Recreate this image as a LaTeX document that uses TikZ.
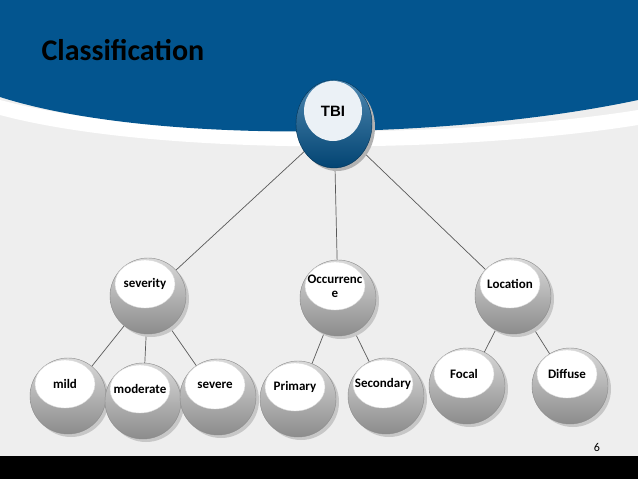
\documentclass[tikz,border=0pt]{standalone}
\usepackage{fontspec}
\setmainfont{Carlito}
\newfontfamily\arialf{Liberation Sans}
\definecolor{hdr}{HTML}{03558F}
\definecolor{bgg}{HTML}{EEEEEE}
\begin{document}
\begin{tikzpicture}[x=1pt,y=-1pt,
  lbl/.style={font=\bfseries\fontsize{13}{14}\selectfont,text=black,align=center},
  conn/.style={draw=black!65,line width=0.7pt}]
\useasboundingbox (0,0) rectangle (638,479);
\fill[bgg] (0,0) rectangle (638,479);
\fill[white] (0,100) .. controls (150,140) and (450,140) .. (638,110) -- (638,125) .. controls (450,155) and (150,155) .. (0,115) -- cycle;
\fill[hdr] (0,0) -- (638,0) -- (638,100) .. controls (450,140) and (150,145) .. (0,97) -- cycle;
\fill[black] (0,456) rectangle (638,479);
\node[anchor=west,font=\bfseries\fontsize{30}{32}\selectfont,text=black] (title) at (38,50) {Classification};
\node[font=\fontsize{12}{12}\selectfont] (pg) at (597,447) {6};
\coordinate (tbi) at (334,124);
\coordinate (sev) at (148,296);
\coordinate (occ) at (338,298);
\coordinate (loc) at (513,296);
\coordinate (mild) at (68,396);
\coordinate (mod) at (143,401);
\coordinate (svr) at (218,397);
\coordinate (pri) at (298,399);
\coordinate (sec) at (386,396);
\coordinate (foc) at (467,386);
\coordinate (dif) at (570,386);
\foreach \a/\b in {tbi/sev,tbi/occ,tbi/loc,sev/mild,sev/mod,sev/svr,occ/pri,occ/sec,loc/foc,loc/dif}
  \draw[conn] (\a) -- (\b);
\newcommand\gball[2]{%
  \fill[black!22] ([shift={(3,3)}]#1) circle (38);
  \shade[top color=black!15,bottom color=black!45,draw=black!45] (#1) circle (38);
  \fill[white,draw=black!15] ([shift={(-3,-12)}]#1) ellipse (30 and 24);
  \node[lbl] (#1-t) at ([shift={(-3,-12)}]#1) {#2};}
\gball{sev}{severity}
\gball{occ}{Occurrenc\\e}
\gball{loc}{Location}
\gball{mild}{mild}
\gball{mod}{moderate}
\gball{svr}{severe}
\gball{pri}{Primary}
\gball{sec}{Secondary}
\gball{foc}{Focal}
\gball{dif}{Diffuse}
\fill[black!30] ([shift={(3,3)}]tbi) ellipse (38 and 44);
\shade[top color=hdr!70,bottom color=hdr!80!black,draw=hdr!60!black] (tbi) ellipse (38 and 44);
\fill[white!92!hdr] ([shift={(-1,-13)}]tbi) ellipse (29 and 30);
\node[font=\arialf\bfseries\fontsize{15}{16}\selectfont] (tbi-t) at ([shift={(-1,-13)}]tbi) {TBI};
\end{tikzpicture}
\end{document}
